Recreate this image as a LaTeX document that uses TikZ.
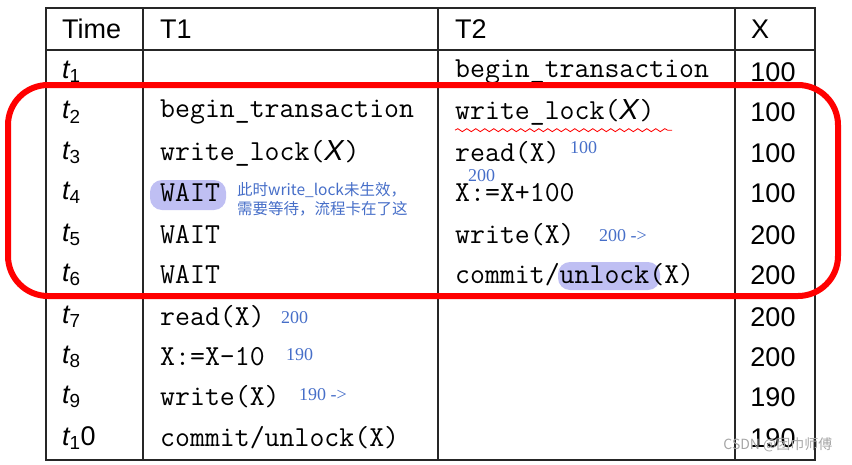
\documentclass[tikz,border=0pt]{standalone}
\usepackage{fontspec}
\setmainfont{Liberation Sans}
\setmonofont{Latin Modern Mono}
\newfontfamily\cjk{Noto Sans CJK SC}
\newfontfamily\notefont{Liberation Serif}
\usetikzlibrary{positioning,decorations.pathmorphing}

\definecolor{noteblue}{RGB}{70,110,200}
\definecolor{marker}{RGB}{175,175,240}
\tikzstyle{cell} = [anchor=west, inner sep=0pt, font=\fontsize{27}{27}\selectfont]
\tikzstyle{code} = [cell, font=\fontsize{29}{29}\selectfont\ttfamily]
\tikzstyle{num} = [anchor=center, inner sep=0pt, font=\fontsize{27}{27}\selectfont]
\tikzstyle{note} = [anchor=west, inner sep=0pt, text=noteblue, font=\fontsize{18}{18}\selectfont\notefont]
\tikzstyle{grid} = [line width=1.2pt, black!85]
\tikzstyle{box} = [line width=6pt, red, rounded corners=40pt]
\tikzstyle{hl} = [marker, opacity=0.8, rounded corners=12pt]

\begin{document}
\begin{tikzpicture}[x=1pt, y=-1pt]
    \useasboundingbox (0,0) rectangle (852,464);

    % table lines
    \draw [grid] (46,8) rectangle (815,460);
    \draw [grid] (46,50) -- (815,50);
    \foreach \cx in {143,438,735}
        \draw [grid] (\cx,8) -- (\cx,460);

    % marker highlights
    \fill [hl] (150,180) rectangle (226,210);
    \fill [hl] (558,262) rectangle (660,290);

    % header
    \node (hTime) [cell] at (62,29) {Time};
    \node (hT1) [cell] at (160,29) {T1};
    \node (hT2) [cell] at (455,29) {T2};
    \node (hX) [cell] at (751,29) {X};

    % time column
    \foreach \i/\y in {1/72,2/112,3/153,4/193,5/235,6/275,7/317,8/357,9/397}
        \node (t\i) [cell] at (62,\y) {\itshape t\textsubscript{\upshape\i}};
    \node (t10) [cell] at (62,438) {\itshape t\textsubscript{\upshape 1}\upshape 0};

    % X column
    \foreach \i/\y/\v in {1/72/100,2/112/100,3/153/100,4/193/100,5/235/200,6/275/200,7/317/200,8/357/200,9/397/190,10/438/190}
        \node (x\i) [num] at (773,\y) {\v};

    % T1
    \node (a2) [code] at (160,112) {begin\_transaction};
    \node (a3) [code] at (160,153) {write\_lock(\textit{\rmfamily X})};
    \node (a4) [code] at (160,193) {WAIT};
    \node (a5) [code] at (160,235) {WAIT};
    \node (a6) [code] at (160,275) {WAIT};
    \node (a7) [code] at (160,317) {read(X)};
    \node (a8) [code] at (160,357) {X:=X-10};
    \node (a9) [code] at (160,397) {write(X)};
    \node (a10) [code] at (160,438) {commit/unlock(X)};

    % T2
    \node (b1) [code] at (455,72) {begin\_transaction};
    \node (b2) [code] at (455,112) {write\_lock(\textit{\rmfamily X})};
    \node (b3) [code] at (455,153) {read(X)};
    \node (b4) [code] at (455,193) {X:=X+100};
    \node (b5) [code] at (455,235) {write(X)};
    \node (b6) [code] at (455,275) {commit/unlock(X)};

    % notes
    \node (n4) [note, align=left, font=\fontsize{15.5}{19}\selectfont\cjk] at (237,199) {此时write\_lock未生效，\\需要等待，流程卡在了这};
    \node (m3) [note] at (570,148) {100};
    \node (m4) [note] at (468,176) {200};
    \node (m5) [note] at (599,236) {200 ->};
    \node (m7) [note] at (281,318) {200};
    \node (m8) [note] at (286,355) {190};
    \node (m9) [note] at (299,395) {190 ->};

    % wavy underline
    \draw [red, line width=0.8pt, decorate, decoration={snake, amplitude=1.5pt, segment length=9pt}]
        (b2.south west) ++(0,5) -- ++(217,0);

    % focus box
    \draw [box] (8,85) rectangle (838,296);

    \node (wm) [anchor=east, text=gray!70, font=\fontsize{14}{14}\selectfont\cjk] at (836,445) {CSDN @团巾师傅};
\end{tikzpicture}
\end{document}
